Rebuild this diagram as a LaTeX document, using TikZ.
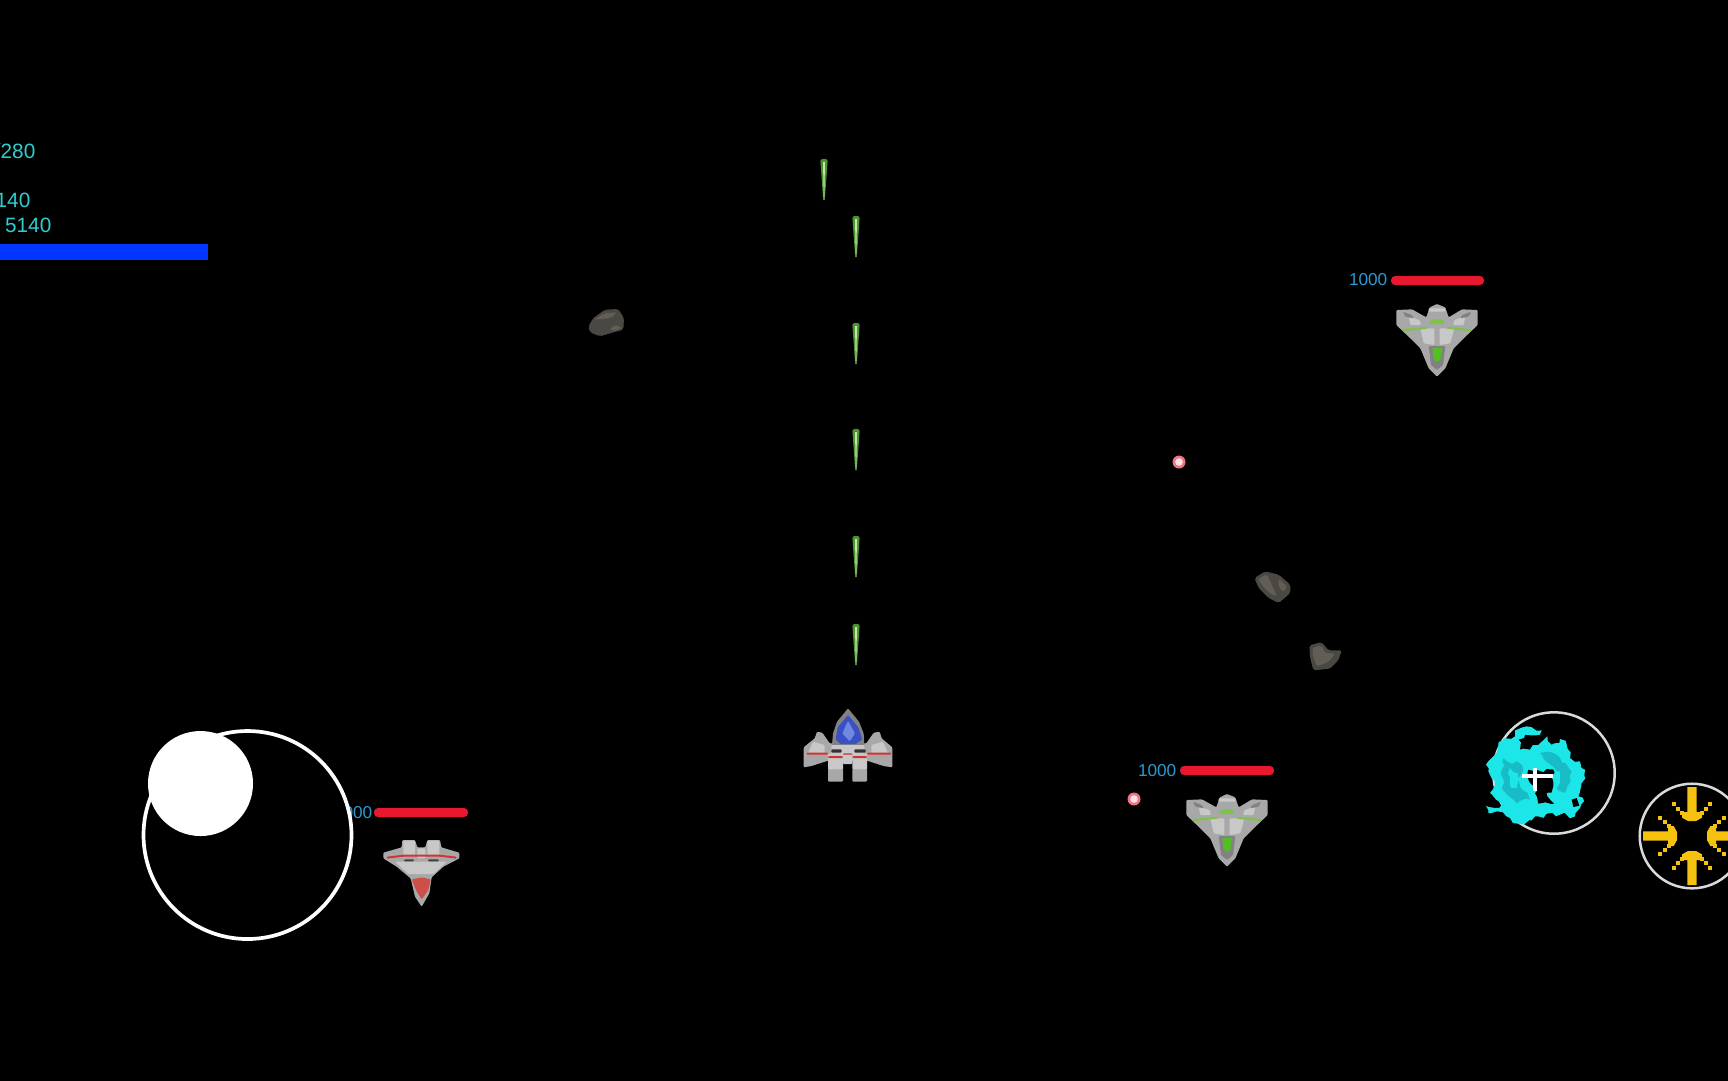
\documentclass[tikz,border=0pt]{standalone}
\usepackage{fontspec}
\usetikzlibrary{decorations.pathmorphing}
\setmainfont{Liberation Sans}
\definecolor{hudcyan}{HTML}{2CCFCF}
\definecolor{hudblue}{HTML}{0036FF}
\definecolor{hpblue}{HTML}{2A9AD2}
\definecolor{hpred}{HTML}{E8182F}
\definecolor{boltdark}{HTML}{4F9434}
\definecolor{boltlight}{HTML}{C4E8A2}
\definecolor{hullmid}{HTML}{A8A8A8}
\definecolor{hulldark}{HTML}{828282}
\definecolor{hulllight}{HTML}{C8C8C8}
\definecolor{gemblue}{HTML}{3A50C4}
\definecolor{gemlight}{HTML}{6F88E2}
\definecolor{trimred}{HTML}{D23434}
\definecolor{noseGreen}{HTML}{52C022}
\definecolor{trimgreen}{HTML}{7FC24A}
\definecolor{noseRed}{HTML}{CE4E48}
\definecolor{rockdark}{HTML}{4A4842}
\definecolor{rocklight}{HTML}{625E55}
\definecolor{swirl}{HTML}{1CE6E8}
\definecolor{swirldark}{HTML}{18BCC6}
\definecolor{btnyellow}{HTML}{F6C210}
\definecolor{ringgrey}{HTML}{DADADA}
\tikzset{
    sprite/.style = {scale=1/3},
    hudtext/.style = {inner sep=0pt, text=hudcyan, font=\fontsize{5.9}{7}\selectfont},
    hptext/.style = {inner sep=0pt, text=hpblue, font=\fontsize{4.9}{6}\selectfont},
    hpbar/.style = {fill=hpred, rounded corners=0.4mm},
    btnring/.style = {draw=ringgrey, line width=0.25mm},
    pixelly/.style = {decorate, decoration={random steps, segment length=0.45mm, amplitude=0.25mm}},
    bolt/.pic = {
        \fill[boltdark] (-3.6,2) .. controls (-3.6,-1) and (3.6,-1) .. (3.6,2) -- (0.8,41) -- (-0.8,41) -- cycle;
        \fill[boltlight] (-1,3) -- (1,3) -- (0.3,38) -- (-0.3,38) -- cycle;
    },
    spark/.pic = {
        \fill[hpred!60!white] (0,0) circle (6.5);
        \fill[white!88!hpred] (0,0) circle (3.8);
    },
    playership/.pic = {
        \begin{scope}[shift={(-205,-165)}, rounded corners=0.1mm]
            \fill[hullmid] (72,172) -- (105,145) -- (112,125) -- (128,128) -- (150,160) -- (260,160) -- (282,128) -- (300,125) -- (306,145) -- (338,172) -- (338,232) -- (312,228) -- (262,212) -- (145,212) -- (95,228) -- (72,232) -- cycle;
            \fill[hulllight] (100,155) -- (135,165) -- (135,190) -- (85,190) -- cycle;
            \fill[hulllight] (310,155) -- (275,165) -- (275,190) -- (325,190) -- cycle;
            \fill[hulldark] (205,55) -- (238,95) -- (252,130) -- (255,185) -- (155,185) -- (160,130) -- (172,95) -- cycle;
            \fill[hulllight] (155,165) rectangle (255,192);
            \fill[gemblue] (205,75) -- (236,112) -- (248,148) -- (228,162) -- (182,162) -- (168,148) -- (174,112) -- cycle;
            \fill[gemlight] (205,92) -- (226,130) -- (210,154) -- (188,130) -- cycle;
            \fill[hulllight] (145,190) rectangle (190,240);
            \fill[hulllight] (218,190) rectangle (262,240);
            \fill[hullmid] (145,238) rectangle (190,275);
            \fill[hullmid] (218,238) rectangle (262,275);
            \fill[hulllight] (190,195) rectangle (218,222);
            \fill[black!80] (155,178) rectangle (186,188);
            \fill[black!80] (224,178) rectangle (258,188);
            \fill[trimred] (80,188) rectangle (145,194);
            \fill[trimred] (262,188) rectangle (335,194);
            \fill[trimred] (145,198) rectangle (190,204);
            \fill[trimred] (218,198) rectangle (262,204);
            \fill[trimred] (190,190) rectangle (218,194);
        \end{scope}
    },
    greenship/.pic = {
        \begin{scope}[shift={(-320,-240)}, rounded corners=0.1mm]
            \fill[hullmid] (198,150) -- (245,148) -- (288,172) -- (298,142) -- (320,132) -- (345,142) -- (355,172) -- (395,148) -- (442,150) -- (442,195) -- (400,235) -- (370,265) -- (345,325) -- (320,350) -- (295,325) -- (270,265) -- (240,235) -- (198,195) -- cycle;
            \fill[hulllight] (270,205) -- (312,205) -- (312,255) -- (280,250) -- cycle;
            \fill[hulllight] (328,205) -- (372,205) -- (360,250) -- (328,255) -- cycle;
            \fill[hulllight] (295,145) -- (345,145) -- (345,155) -- (295,155) -- cycle;
            \fill[hulllight] (235,170) -- (268,180) -- (272,195) -- (240,195) -- cycle;
            \fill[hulllight] (405,170) -- (372,180) -- (368,195) -- (400,195) -- cycle;
            \fill[hulldark] (218,155) -- (245,165) -- (250,175) -- (225,170) -- cycle;
            \fill[hulldark] (422,155) -- (395,165) -- (390,175) -- (415,170) -- cycle;
            \fill[trimgreen] (215,208) -- (290,200) -- (292,206) -- (218,214) -- cycle;
            \fill[trimgreen] (425,208) -- (350,200) -- (348,206) -- (422,214) -- cycle;
            \fill[trimgreen] (302,178) -- (338,178) -- (342,192) -- (298,192) -- cycle;
            \fill[hulldark] (295,258) -- (345,258) -- (338,315) -- (320,330) -- (302,315) -- cycle;
            \fill[noseGreen] (306,264) -- (335,264) -- (330,298) -- (320,306) -- (310,298) -- cycle;
        \end{scope}
    },
    redship/.pic = {
        \begin{scope}[shift={(-243,-240)}, rounded corners=0.1mm]
            \fill[hullmid] (130,188) -- (185,172) -- (187,150) -- (225,150) -- (232,172) -- (256,172) -- (262,150) -- (300,150) -- (304,172) -- (358,188) -- (358,205) -- (310,230) -- (275,262) -- (268,310) -- (245,350) -- (225,320) -- (212,265) -- (170,230) -- (130,205) -- cycle;
            \fill[hulllight] (190,152) rectangle (225,195);
            \fill[hulllight] (262,152) rectangle (298,195);
            \fill[hulllight] (232,175) rectangle (256,205);
            \fill[hulllight] (165,215) -- (320,215) -- (280,252) -- (205,252) -- cycle;
            \fill[trimred] (140,200) -- (190,194) -- (300,194) -- (350,200) -- (350,206) -- (300,200) -- (190,200) -- (140,206) -- cycle;
            \fill[black!75] (192,208) rectangle (222,214);
            \fill[black!75] (264,208) rectangle (296,214);
            \fill[noseRed] (215,268) -- (245,262) -- (272,268) -- (265,300) -- (245,328) -- (228,300) -- cycle;
        \end{scope}
    },
    rockone/.pic = {
        \fill[rockdark, rounded corners=0.2mm] (-53,10) -- (-38,-15) -- (-3,-40) -- (37,-42) -- (54,-15) -- (52,20) -- (22,28) -- (-18,40) -- (-48,28) -- cycle;
        \fill[rocklight, rounded corners=0.2mm] (-35,-10) -- (-3,-30) -- (32,-32) -- (15,-15) -- (-18,-12) -- cycle;
        \fill[rocklight, rounded corners=0.2mm] (10,18) -- (30,5) -- (48,15) -- (25,24) -- cycle;
    },
    rocktwo/.pic = {
        \fill[rockdark, rounded corners=0.2mm] (-53,-27) -- (-20,-47) -- (20,-37) -- (55,-7) -- (55,18) -- (20,48) -- (-10,33) -- (-40,3) -- cycle;
        \fill[rocklight, rounded corners=0.2mm] (-42,-25) -- (-15,-38) -- (-2,-10) -- (15,28) -- (-5,20) -- (-30,-5) -- cycle;
        \fill[rocklight, rounded corners=0.2mm] (20,-25) -- (45,-2) -- (35,15) -- (20,0) -- cycle;
    },
    rockthree/.pic = {
        \fill[rockdark, rounded corners=0.2mm] (-47,-35) -- (-10,-45) -- (10,-20) -- (50,-20) -- (40,10) -- (15,35) -- (-35,40) -- (-45,0) -- cycle;
        \fill[rocklight, rounded corners=0.2mm] (-38,-28) -- (-10,-35) -- (0,-12) -- (30,-10) -- (10,15) -- (-25,28) -- (-35,0) -- cycle;
    },
    fireswirl/.pic = {
        \begin{scope}[shift={(-282,-220)}]
            \pgfmathsetseed{7}
            \fill[swirl, pixelly] (78,195) -- (100,170) -- (125,125) -- (165,110) -- (170,90) -- (200,80) -- (245,92) -- (240,105) -- (195,105) -- (175,120) -- (180,150) -- (210,150) -- (240,130) -- (262,110) -- (275,135) -- (298,130) -- (300,118) -- (320,135) -- (330,175) -- (360,185) -- (375,210) -- (365,250) -- (355,290) -- (372,305) -- (360,325) -- (345,350) -- (300,345) -- (225,350) -- (215,362) -- (175,372) -- (150,355) -- (110,335) -- (85,340) -- (78,318) -- (105,325) -- (125,315) -- (90,280) -- (105,255) -- (85,215) -- cycle;
            \fill[swirldark, pixelly] (130,175) -- (185,195) -- (178,250) -- (210,300) -- (170,312) -- (128,270) -- cycle;
            \fill[swirldark, pixelly] (240,160) -- (290,165) -- (335,215) -- (315,280) -- (290,265) -- (300,215) -- cycle;
            \fill[swirl, pixelly] (150,205) -- (172,220) -- (170,265) -- (150,255) -- cycle;
            \fill[black, pixelly] (205,210) -- (280,210) -- (280,258) -- (262,290) -- (282,312) -- (235,312) -- (232,272) -- (205,240) -- cycle;
            \fill[black] (335,300) -- (350,295) -- (358,318) -- (340,322) -- cycle;
            \fill[white] (218,205) rectangle (232,275);
            \fill[white] (185,222) rectangle (280,235);
        \end{scope}
    },
    firearrow/.pic = {
        \fill[btnyellow] (-14,-147) -- (14,-147) -- (14,-72) -- (30,-72) -- (30,-55) -- (12,-45) -- (-12,-45) -- (-30,-55) -- (-30,-72) -- (-14,-72) -- cycle;
        \foreach \side in {-1,1} {
            \fill[btnyellow] (\side*55-6,-103) rectangle (\side*55+6,-91);
            \fill[btnyellow] (\side*41-6,-88) rectangle (\side*41+6,-76);
            \fill[btnyellow] (\side*30-6,-74) rectangle (\side*30+6,-62);
        }
    }
}

\begin{document}
\begin{tikzpicture}[x=0.1mm, y=-0.1mm]
    \useasboundingbox (0,0) rectangle (1728,1080);
    \fill[black] (-10,-10) rectangle (1738,1090);

    % score panel
    \node[hudtext, anchor=east] (scoretop) at (36,151) {/280};
    \node[hudtext, anchor=east] (scoremid) at (31,200) {140};
    \node[hudtext, anchor=east] (scorelow) at (52,225) {5140};
    \fill[hudblue] (0,244) rectangle (208,260);

    % shots
    \pic at (824,159) {bolt};
    \foreach \top in {216,323,429,536,624}
        \pic at (856,\top) {bolt};

    % rocks
    \pic[sprite] at (606,323) {rockone};
    \pic[sprite] at (1272,587) {rocktwo};
    \pic[sprite] at (1325,657) {rockthree};

    % enemy fire
    \pic at (1179,462) {spark};
    \pic at (1134,799) {spark};

    % ships
    \pic[sprite] at (848,745) {playership};
    \pic[sprite] at (1437,340) {greenship};
    \pic[sprite] at (1227,830) {greenship};
    \pic[sprite] at (421,870) {redship};

    % health
    \fill[hpbar] (1391,276) rectangle (1484,285);
    \node[hptext, anchor=east] (hpright) at (1388,280) {1000};
    \fill[hpbar] (1180,766) rectangle (1274,775);
    \node[hptext, anchor=east] (hpmid) at (1177,771) {1000};
    \fill[hpbar] (374,808) rectangle (468,817);
    \node[hptext, anchor=east] (hpleft) at (373,813) {1000};

    % stick
    \draw[white, line width=0.37mm, fill=black] (247.5,835) circle (104);
    \fill[white] (200.5,783.5) circle (52.5);

    % buttons
    \draw[btnring] (1554,773) circle (60.7);
    \pic[sprite] at (1554,773) {fireswirl};
    \draw[btnring] (1692,836) circle (52.3);
    \foreach \angle in {0,90,180,270}
        \pic[sprite, rotate=\angle] at (1692,836) {firearrow};
\end{tikzpicture}
\end{document}
